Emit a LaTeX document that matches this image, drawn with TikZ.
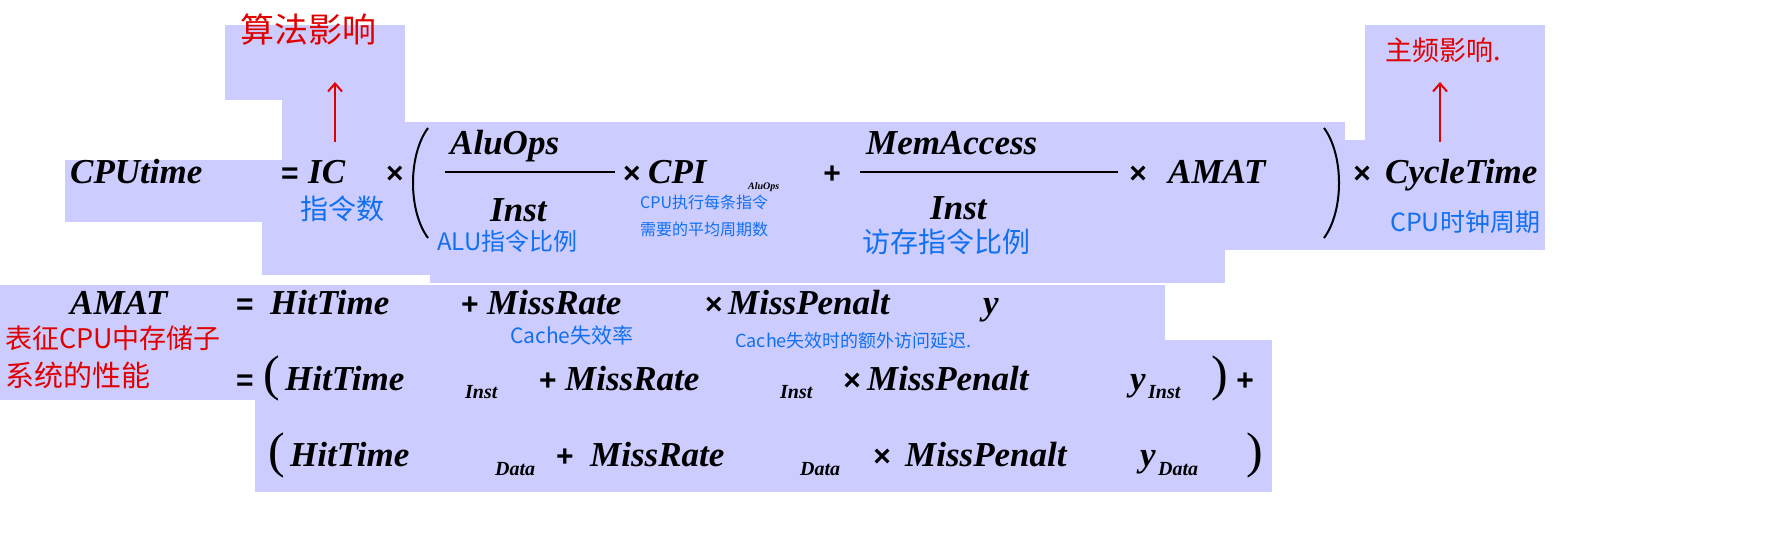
\documentclass[tikz,border=0pt]{standalone}
\usepackage{fontspec}
\usetikzlibrary{arrows.meta}
\setmainfont{Liberation Serif}
\newfontfamily\opfont{Liberation Sans}
\newfontfamily\cjk{Noto Sans CJK SC}
\definecolor{hl}{HTML}{CCCCFF}
\definecolor{ared}{HTML}{E00000}
\definecolor{ablue}{HTML}{1070F0}
\newcommand\fz[1]{\fontsize{#1}{#1}\selectfont\cjk}
\begin{document}
\begin{tikzpicture}[x=1pt,y=-1pt,
  v/.style={anchor=base west,inner sep=0,font=\fontsize{35}{40}\selectfont\bfseries\itshape},
  sb/.style={anchor=base west,inner sep=0,font=\fontsize{20}{24}\selectfont\bfseries\itshape},
  op/.style={anchor=base,inner sep=0,font=\fontsize{30}{36}\selectfont\opfont\bfseries},
  par/.style={anchor=center,inner sep=0,font=\fontsize{#1}{#1}\selectfont},
  rn/.style={anchor=north west,inner sep=0,text=ared,font=\fz{34}},
  bn/.style={anchor=north west,inner sep=0,text=ablue,font=\fz{26}},
  fl/.style={line width=1.2pt},
  bigpar/.style={line width=2pt},
  ar/.style={ared,line width=2pt,-{Straight Barb[length=8pt,width=14pt]}}]
\useasboundingbox (0,0) rectangle (1772,556);
\fill[hl] (225,25) rectangle (405,100);
\fill[hl] (282,100) rectangle (405,160);
\fill[hl] (65,160) rectangle (1345,222);
\fill[hl] (262,222) rectangle (430,275);
\fill[hl] (405,122) rectangle (1345,250);
\fill[hl] (430,250) rectangle (1225,283);
\fill[hl] (1345,140) rectangle (1545,250);
\fill[hl] (1365,25) rectangle (1545,140);
\fill[hl] (0,285) rectangle (1165,340);
\fill[hl] (0,340) rectangle (1272,400);
\fill[hl] (255,400) rectangle (1272,492);
% row 1
\node[v] (cpu) at (70,184) {CPUtime};
\node[op] (eq1) at (290,184) {=};
\node[v] (ic) at (308,184) {IC};
\node[op] (x1) at (395,184) {×};
\coordinate (lpT) at (428,128);
\coordinate (lpB) at (428,238);
\draw[bigpar] (lpT) .. controls (408,155) and (408,211) .. (lpB);
\node[v] (alu) at (450,155) {AluOps};
\draw[fl] (445,172) -- (615,172) coordinate (f1e);
\node[v] (in1) at (490,222) {Inst};
\node[op] (x2) at (632,184) {×};
\node[v] (cpi) at (648,184) {CPI};
\node[anchor=base west,inner sep=0,font=\fontsize{10}{12}\selectfont\bfseries\itshape] (aluS) at (748,190) {AluOps};
\node[op] (p1) at (832,184) {+};
\node[v] (mem) at (866,155) {MemAccess};
\draw[fl] (860,172) -- (1118,172);
\node[v] (in2) at (930,220) {Inst};
\node[op] (x3) at (1138,184) {×};
\node[v] (amat1) at (1168,184) {AMAT};
\coordinate (rpT) at (1324,128);
\coordinate (rpB) at (1324,238);
\draw[bigpar] (rpT) .. controls (1344,155) and (1344,211) .. (rpB);
\node[op] (x4) at (1362,184) {×};
\node[v] (ct) at (1385,184) {CycleTime};
% annotations row1
\node[rn] (alg) at (240,14) {算法影响};
\coordinate (icTop) at (335,142);
\draw[ar] (icTop) -- (335,82);
\node[bn,font=\fz{28}] (icn) at (300,196) {指令数};
\node[bn,font=\fz{24}] (alun) at (437,230) {ALU指令比例};
\node[bn,font=\fz{16}] (cpin) at (640,195) {CPU执行每条指令};
\node[bn,font=\fz{16}] (cpin2) at (640,222) {需要的平均周期数};
\node[bn,font=\fz{28}] (memn) at (862,229) {访存指令比例};
\node[rn,font=\fz{27}] (fq) at (1385,38) {主频影响.};
\coordinate (ctTop) at (1440,142);
\draw[ar] (ctTop) -- (1440,82);
\node[bn,font=\fz{25}] (ctn) at (1390,210) {CPU时钟周期};
% row 2
\node[v] (amat) at (70,314) {AMAT};
\node[op] (eq2) at (245,314) {=};
\node[v] (ht) at (270,314) {HitTime};
\node[op] (p2) at (470,314) {+};
\node[v] (mr) at (487,314) {MissRate};
\node[op] (x5) at (714,314) {×};
\node[v] (mp) at (728,314) {MissPenalt};
\node[v] (y1) at (983,314) {y};
\node[bn,font=\fz{21}] (mrn) at (510,326) {Cache失效率};
\node[bn,font=\fz{18}] (mpn) at (735,332) {Cache失效时的额外访问延迟.};
\node[rn,font=\fz{27}] (amn) at (5,326) {表征CPU中存储子};
\node[rn,font=\fz{29}] (amn2) at (5,362) {系统的性能};
% row 3
\node[op] (eq3) at (245,390) {=};
\node[par=50] (lp3) at (272,378) {(};
\node[v] (ht3) at (285,390) {HitTime};
\node[sb] (s31) at (465,398) {Inst};
\node[op] (p3) at (548,390) {+};
\node[v] (mr3) at (565,390) {MissRate};
\node[sb] (s32) at (780,398) {Inst};
\node[op] (x6) at (852,390) {×};
\node[v] (mp3) at (867,390) {MissPenalt};
\node[v] (y3) at (1130,390) {y};
\node[sb] (s33) at (1148,398) {Inst};
\node[par=50] (rp3) at (1220,378) {)};
\node[op] (p4) at (1245,390) {+};
% row 4
\node[par=50] (lp4) at (277,455) {(};
\node[v] (ht4) at (290,466) {HitTime};
\node[sb] (s41) at (495,475) {Data};
\node[op] (p5) at (565,466) {+};
\node[v] (mr4) at (590,466) {MissRate};
\node[sb] (s42) at (800,475) {Data};
\node[op] (x7) at (882,466) {×};
\node[v] (mp4) at (905,466) {MissPenalt};
\node[v] (y4) at (1140,466) {y};
\node[sb] (s43) at (1158,475) {Data};
\node[par=50] (rp4) at (1255,455) {)};
\end{tikzpicture}
\end{document}
